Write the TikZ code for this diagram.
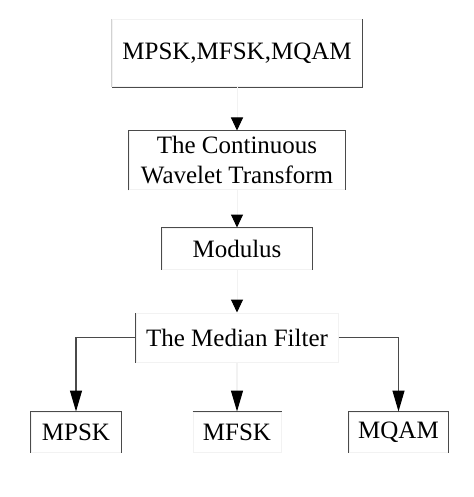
\documentclass[tikz,border=0pt]{standalone}
\usepackage{fontspec}
\setmainfont{Liberation Serif}
\usetikzlibrary{arrows.meta}
\definecolor{edge}{HTML}{4A4A4A}
\definecolor{faint}{HTML}{F2F2F2}
\tikzset{box/.style={draw=faint,line width=0.5pt,align=center,inner sep=0pt,
  font=\fontsize{12.5}{15}\selectfont},
  side/.style={draw=edge,line width=0.6pt},
  flow/.style={draw=faint,line width=0.5pt,-{Triangle[length=6.5pt,width=6pt,color=black]}},
  branch/.style={draw=edge,line width=0.6pt,-{Triangle[length=10.5pt,width=6pt,color=black]}}}
\begin{document}
\begin{tikzpicture}[x=0.5pt,y=-0.5pt]
\useasboundingbox (0,0) rectangle (474,497);
\node[box,minimum width=125pt,minimum height=33.5pt] (src) at (237,53.5) {MPSK,MFSK,MQAM};
\node[box,minimum width=108pt,minimum height=29.5pt] (cwt) at (237,160.5) {The Continuous\\Wavelet Transform};
\node[box,minimum width=75pt,minimum height=20.5pt] (mod) at (237,248.5) {Modulus};
\node[box,minimum width=101pt,minimum height=24.5pt] (med) at (237,337.5) {The Median Filter};
\node[box,minimum width=45pt,minimum height=20pt] (mpsk) at (76,432) {MPSK};
\node[box,minimum width=44pt,minimum height=20pt] (mfsk) at (237,432) {MFSK};
\node[box,minimum width=49.5pt,minimum height=20pt] (mqam) at (398.5,432) {MQAM};
% visible sides of the boxes
\draw[side,draw=edge!25] (src.south west) -- (src.north west);
\draw[side] (src.north east) |- (src.south west);
\draw[side] (cwt.south west) |- (cwt.north east) -- (cwt.south east);
\draw[side] (mod.south west) |- (mod.north east) -- (mod.south east);
\draw[side] (med.south west) -- (med.north west);
\draw[side] (mpsk.south west) |- (mpsk.north east) -- (mpsk.south east);
\draw[side] (mfsk.north west) -- (mfsk.north east);
\draw[side] (mqam.south west) |- (mqam.north east) -- (mqam.south east);
% connectors
\draw[flow] (src)--(cwt);\draw[flow] (cwt)--(mod);\draw[flow] (mod)--(med);
\draw[branch] (med.west) -| (mpsk.north);
\draw[branch] (med.east) -| (mqam.north);
\draw[branch,draw=faint] (med)--(mfsk);
\end{tikzpicture}
\end{document}
